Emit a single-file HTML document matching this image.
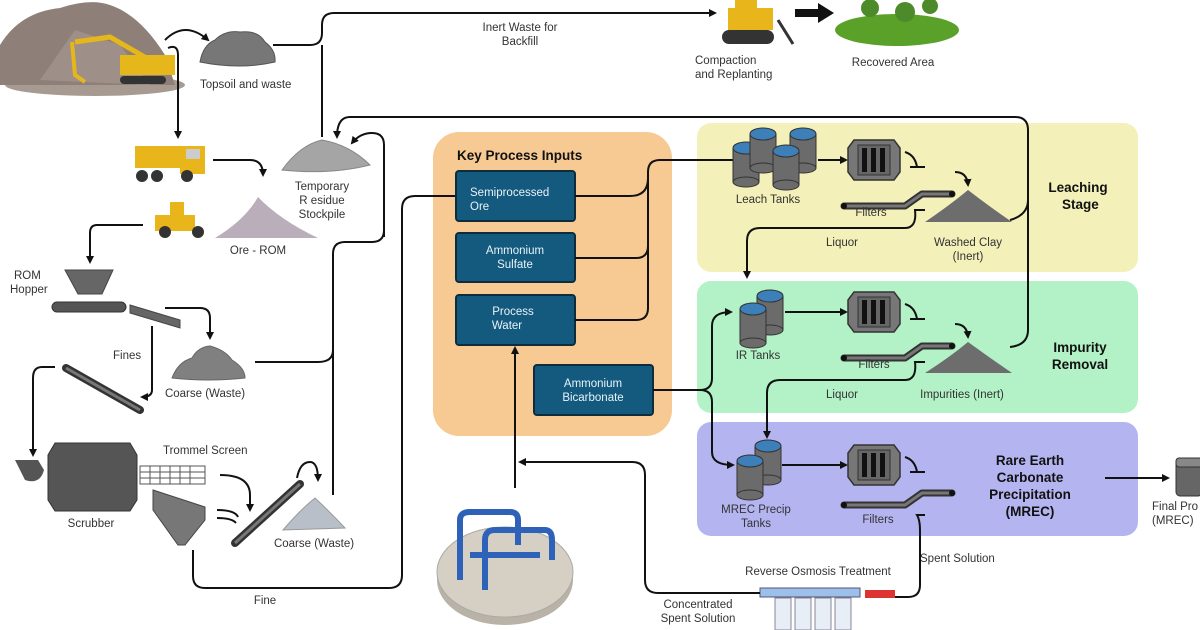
<!DOCTYPE html>
<html><head><meta charset="utf-8"><style>
html,body{margin:0;padding:0;background:#fff;}
svg{display:block;font-family:"Liberation Sans",Arial,sans-serif;}
.t{font-size:11.5px;fill:#333;}
.b{font-size:13.5px;font-weight:bold;fill:#111;}
.w{font-size:11.5px;fill:#e8f2f8;}
.ln{fill:none;stroke:#111;stroke-width:2;}
</style></head><body>
<svg width="1200" height="630" viewBox="0 0 1200 630">
<defs>
<marker id="a" markerWidth="8" markerHeight="8" refX="6" refY="4" orient="auto" markerUnits="userSpaceOnUse"><path d="M0,0 L8,4 L0,8 z" fill="#111"/></marker>
<g id="tank"><rect x="0" y="6" width="26" height="34" fill="#6b6b6b" stroke="#333"/><ellipse cx="13" cy="40" rx="13" ry="5" fill="#6b6b6b" stroke="#333"/><ellipse cx="13" cy="6" rx="13" ry="6" fill="#3d7fb8" stroke="#333"/></g>
<g id="filt"><path d="M6,0 H46 L52,8 V32 L46,40 H6 L0,32 V8 Z" fill="#777" stroke="#333" stroke-width="1.5"/><rect x="10" y="5" width="32" height="30" fill="#666" stroke="#333"/><rect x="14" y="8" width="5" height="24" fill="#111"/><rect x="23" y="8" width="5" height="24" fill="#111"/><rect x="32" y="8" width="5" height="24" fill="#111"/></g>
<g id="belt"><path d="M4,18 H65 L82,6 H112" fill="none" stroke="#333" stroke-width="7" stroke-linecap="round" stroke-linejoin="round"/><path d="M4,18 H65 L82,6 H112" fill="none" stroke="#777" stroke-width="3"/><circle cx="4" cy="18" r="3" fill="#111"/><circle cx="112" cy="6" r="3" fill="#111"/></g>
</defs>

<!-- panels -->
<rect x="433" y="132" width="239" height="304" rx="26" fill="#f7c993"/>
<rect x="697" y="123" width="441" height="149" rx="14" fill="#f3f0b9"/>
<rect x="697" y="281" width="441" height="132" rx="14" fill="#b3f1c6"/>
<rect x="697" y="422" width="441" height="114" rx="14" fill="#b4b4f1"/>

<!-- top landscape -->
<ellipse cx="95" cy="85" rx="90" ry="11" fill="#a79a90"/>
<path d="M0,45 Q20,12 60,8 Q90,-2 110,5 Q140,15 165,55 L175,85 L0,85 Z" fill="#8e8078"/>
<path d="M40,80 L75,30 L120,45 L150,85 Z" fill="#9e9088"/>
<path d="M75,42 L110,37 L150,60" fill="none" stroke="#e6b71b" stroke-width="5"/>
<rect x="120" y="55" width="55" height="20" fill="#e6b71b"/>
<rect x="120" y="76" width="46" height="8" rx="4" fill="#333"/>
<path d="M72,42 L75,75 L85,82" fill="none" stroke="#e6b71b" stroke-width="4"/>
<path d="M200,62 Q203,45 215,40 Q225,30 240,32 Q258,30 265,42 Q276,50 275,62 Q240,70 200,62 Z" fill="#777" stroke="#555"/>
<text class="t" x="200" y="88">Topsoil and waste</text>
<path class="ln" d="M165,40 Q185,20 208,40" marker-end="url(#a)"/>
<path class="ln" d="M168,48 Q178,44 178,55 V137" marker-end="url(#a)"/>
<!-- truck -->
<rect x="135" y="146" width="45" height="22" fill="#e8b61a"/><rect x="180" y="146" width="25" height="28" fill="#e8b61a"/><rect x="186" y="149" width="14" height="10" fill="#ccc"/>
<circle cx="142" cy="176" r="6" fill="#333"/><circle cx="157" cy="176" r="6" fill="#333"/><circle cx="187" cy="176" r="6" fill="#333"/>
<path class="ln" d="M213,160 H250 Q263,160 263,175" marker-end="url(#a)"/>
<!-- stockpile -->
<path d="M282,170 Q300,145 322,140 Q350,145 370,165 Q330,175 282,170 Z" fill="#a5a5a5" stroke="#888"/>
<text class="t" x="322" y="190" text-anchor="middle">Temporary</text>
<text class="t" x="322" y="204" text-anchor="middle">R esidue</text>
<text class="t" x="322" y="218" text-anchor="middle">Stockpile</text>
<!-- loader + ROM -->
<rect x="155" y="215" width="40" height="16" fill="#e8b61a"/><rect x="170" y="202" width="14" height="14" fill="#e8b61a"/>
<circle cx="165" cy="232" r="6" fill="#333"/><circle cx="198" cy="232" r="6" fill="#333"/>
<path d="M215,238 Q245,220 258,197 Q280,220 318,238 Z" fill="#b9aeb9"/>
<text class="t" x="258" y="254" text-anchor="middle">Ore - ROM</text>
<path class="ln" d="M143,225 H97 Q90,225 90,233 V262" marker-end="url(#a)"/>
<text class="t" x="14" y="279">ROM</text><text class="t" x="10" y="293">Hopper</text>
<path d="M65,270 H113 L102,294 H78 Z" fill="#666" stroke="#444"/>
<!-- conveyor 1 -->
<rect x="52" y="302" width="74" height="10" rx="5" fill="#555" stroke="#333"/>
<path d="M130,305 L180,320 L180,328 L130,313 Z" fill="#666" stroke="#444"/>
<path class="ln" d="M165,308 H200 Q210,308 210,318 V338" marker-end="url(#a)"/>
<path d="M172,378 Q178,362 192,358 Q198,347 210,346 Q225,350 232,360 Q245,368 245,378 Q208,382 172,378 Z" fill="#808080" stroke="#666"/>
<text class="t" x="205" y="397" text-anchor="middle">Coarse (Waste)</text>
<text class="t" x="113" y="359">Fines</text>
<path class="ln" d="M152,326 V390 Q152,397 142,397" marker-end="url(#a)"/>
<path d="M66,368 L140,410" stroke="#333" stroke-width="8" stroke-linecap="round"/>
<path d="M66,368 L140,410" stroke="#777" stroke-width="3"/>
<path class="ln" d="M55,367 H42 Q33,367 33,378 V455" marker-end="url(#a)"/>
<!-- scrubber -->
<path d="M15,460 H38 L44,470 Q40,485 25,480 Z" fill="#555"/>
<path d="M55,443 H130 L137,455 V500 L130,511 H55 L48,500 V455 Z" fill="#555" stroke="#333"/>
<rect x="140" y="466" width="65" height="18" fill="#fff" stroke="#555"/>
<path d="M140,472H205M140,478H205M150,466V484M160,466V484M170,466V484M180,466V484M190,466V484" stroke="#555" stroke-width="1"/>
<text class="t" x="91" y="527" text-anchor="middle">Scrubber</text>
<text class="t" x="163" y="454">Trommel Screen</text>
<path d="M153,490 L205,507 V520 L185,545 H178 L153,510 Z" fill="#777" stroke="#444"/>
<path class="ln" d="M220,475 Q250,475 250,495 V510" marker-end="url(#a)"/>
<path class="ln" d="M217,510 Q235,510 238,517"/><path class="ln" d="M217,518 Q232,518 236,523"/>
<path d="M235,543 L300,484" stroke="#333" stroke-width="8" stroke-linecap="round"/>
<path d="M235,543 L300,484" stroke="#777" stroke-width="3"/>
<path class="ln" d="M297,478 Q300,462 310,462 Q318,462 318,480" marker-end="url(#a)"/>
<path d="M283,530 Q300,510 315,498 Q330,512 345,528 Z" fill="#b8bfc8" stroke="#999"/>
<text class="t" x="314" y="547" text-anchor="middle">Coarse (Waste)</text>
<text class="t" x="265" y="604" text-anchor="middle">Fine</text>

<!-- connectors left -->
<path class="ln" d="M273,45 H310 Q322,45 322,33 V25 Q322,13 334,13 H715" marker-end="url(#a)"/>
<path class="ln" d="M322,45 V137"/>
<text class="t" x="520" y="31" text-anchor="middle">Inert Waste for</text>
<text class="t" x="520" y="45" text-anchor="middle">Backfill</text>
<path class="ln" d="M1010,220 Q1028,215 1028,200 V130 Q1028,117 1015,117 H350 Q337,117 337,137" marker-end="url(#a)"/>
<path class="ln" d="M1010,347 Q1028,345 1028,330 V200"/>
<path class="ln" d="M384,237 V145 Q384,133 372,133 Q360,133 352,143" marker-end="url(#a)"/>
<path class="ln" d="M384,230 Q384,242 372,242 H345 Q333,242 333,254 V495"/>
<path class="ln" d="M255,362 H318 Q333,362 333,350"/>
<path class="ln" d="M456,196 H415 Q402,196 402,209 V575 Q402,588 389,588 H205 Q193,588 193,576 V550"/>

<!-- top right -->
<rect x="728" y="8" width="45" height="22" fill="#e8b61a"/><rect x="735" y="0" width="22" height="10" fill="#e8b61a"/>
<rect x="722" y="30" width="52" height="14" rx="7" fill="#333"/>
<path d="M778,20 L793,44" stroke="#333" stroke-width="3"/>
<path d="M795,9 H818 V3 L834,13 L818,23 V17 H795 Z" fill="#111"/>
<ellipse cx="897" cy="30" rx="62" ry="16" fill="#5aa12a"/>
<circle cx="870" cy="8" r="9" fill="#4d8a2a"/><circle cx="905" cy="12" r="10" fill="#4d8a2a"/><circle cx="930" cy="6" r="8" fill="#4d8a2a"/>
<text class="t" x="695" y="64">Compaction</text><text class="t" x="695" y="78">and Replanting</text>
<text class="t" x="893" y="66" text-anchor="middle">Recovered Area</text>

<!-- key process inputs -->
<text class="b" x="457" y="160">Key Process Inputs</text>
<g fill="#135a7e" stroke="#0d2d3d" stroke-width="2">
<rect x="456" y="171" width="119" height="50" rx="3"/>
<rect x="456" y="233" width="119" height="49" rx="3"/>
<rect x="456" y="295" width="119" height="50" rx="3"/>
<rect x="534" y="365" width="119" height="50" rx="3"/>
</g>
<text class="w" x="470" y="196">Semiprocessed</text><text class="w" x="470" y="210">Ore</text>
<text class="w" x="515" y="254" text-anchor="middle">Ammonium</text><text class="w" x="515" y="268" text-anchor="middle">Sulfate</text>
<text class="w" x="513" y="315" text-anchor="middle">Process</text><text class="w" x="507" y="329" text-anchor="middle">Water</text>
<text class="w" x="593" y="387" text-anchor="middle">Ammonium</text><text class="w" x="593" y="401" text-anchor="middle">Bicarbonate</text>
<path class="ln" d="M575,196 H630 Q648,196 648,178 V172 Q648,160 660,160 H733"/>
<path class="ln" d="M575,258 H636 Q648,258 648,246 V178"/>
<path class="ln" d="M575,320 H636 Q648,320 648,308 V246"/>
<path class="ln" d="M515,488 V348" marker-end="url(#a)"/>

<!-- leaching -->
<use href="#tank" x="733" y="142"/><use href="#tank" x="750" y="128"/><use href="#tank" x="790" y="128"/><use href="#tank" x="773" y="145"/>
<text class="t" x="768" y="203" text-anchor="middle">Leach Tanks</text>
<path class="ln" d="M818,160 H846" marker-end="url(#a)"/>
<use href="#filt" x="848" y="140"/>
<path class="ln" d="M905,152 Q915,155 917,167 M910,167 H925"/>
<use href="#belt" x="840" y="188"/>
<text class="t" x="871" y="216" text-anchor="middle">Filters</text>
<path class="ln" d="M955,172 Q967,172 968,185" marker-end="url(#a)"/>
<path d="M925,222 Q950,205 968,190 Q990,207 1012,222 Z" fill="#6d6d6d"/>
<text class="t" x="968" y="246" text-anchor="middle">Washed Clay</text><text class="t" x="968" y="260" text-anchor="middle">(Inert)</text>
<path class="ln" d="M925,210 H915 Q917,228 905,228 H760 Q747,228 747,241 V277" marker-end="url(#a)"/>
<text class="t" x="842" y="246" text-anchor="middle">Liquor</text>
<text class="b" x="1078" y="192" text-anchor="middle">Leaching</text><text class="b" x="1062" y="209">Stage</text>

<!-- impurity removal -->
<use href="#tank" x="757" y="290"/><use href="#tank" x="740" y="303"/>
<text class="t" x="758" y="359" text-anchor="middle">IR Tanks</text>
<path class="ln" d="M785,312 H846" marker-end="url(#a)"/>
<use href="#filt" x="848" y="292"/>
<path class="ln" d="M905,304 Q915,307 917,319 M910,319 H925"/>
<use href="#belt" x="840" y="340"/>
<text class="t" x="874" y="368" text-anchor="middle">Filters</text>
<path class="ln" d="M955,324 Q967,324 968,337" marker-end="url(#a)"/>
<path d="M925,373 Q950,357 968,342 Q990,358 1012,373 Z" fill="#6d6d6d"/>
<text class="t" x="962" y="398" text-anchor="middle">Impurities (Inert)</text>
<path class="ln" d="M925,362 H915 Q917,380 905,380 H780 Q767,380 767,393 V437" marker-end="url(#a)"/>
<text class="t" x="842" y="398" text-anchor="middle">Liquor</text>
<text class="b" x="1080" y="352" text-anchor="middle">Impurity</text><text class="b" x="1080" y="369" text-anchor="middle">Removal</text>

<!-- bicarbonate split -->
<path class="ln" d="M653,390 H700 Q712,390 712,378 V326 Q712,312 731,312" marker-end="url(#a)"/>
<path class="ln" d="M700,390 Q712,390 712,402 V452 Q712,465 733,465" marker-end="url(#a)"/>

<!-- MREC -->
<use href="#tank" x="755" y="440"/><use href="#tank" x="737" y="455"/>
<text class="t" x="756" y="513" text-anchor="middle">MREC Precip</text><text class="t" x="756" y="527" text-anchor="middle">Tanks</text>
<path class="ln" d="M782,465 H846" marker-end="url(#a)"/>
<use href="#filt" x="848" y="445"/>
<path class="ln" d="M905,457 Q915,460 917,472 M910,472 H925"/>
<use href="#belt" x="840" y="487"/>
<text class="t" x="878" y="523" text-anchor="middle">Filters</text>
<text class="b" x="1030" y="465" text-anchor="middle">Rare Earth</text>
<text class="b" x="1030" y="482" text-anchor="middle">Carbonate</text>
<text class="b" x="1030" y="499" text-anchor="middle">Precipitation</text>
<text class="b" x="1030" y="516" text-anchor="middle">(MREC)</text>
<path class="ln" d="M1105,478 H1168" marker-end="url(#a)"/>
<rect x="1176" y="458" width="26" height="38" rx="4" fill="#666" stroke="#333"/>
<rect x="1176" y="458" width="26" height="9" rx="3" fill="#888" stroke="#333"/>
<text class="t" x="1152" y="510">Final Pro</text><text class="t" x="1152" y="524">(MREC)</text>

<!-- spent solution / RO -->
<path class="ln" d="M925,515 H917 Q920,520 920,530 V585 Q920,597 908,597 H895"/>
<text class="t" x="920" y="562">Spent Solution</text>
<text class="t" x="818" y="575" text-anchor="middle">Reverse Osmosis Treatment</text>
<rect x="760" y="588" width="100" height="9" fill="#9cc0ea" stroke="#557"/>
<rect x="865" y="590" width="30" height="8" fill="#d33"/>
<rect x="775" y="598" width="16" height="32" fill="#e8eef5" stroke="#889"/><rect x="795" y="598" width="16" height="32" fill="#e8eef5" stroke="#889"/><rect x="815" y="598" width="16" height="32" fill="#e8eef5" stroke="#889"/><rect x="835" y="598" width="16" height="32" fill="#e8eef5" stroke="#889"/>
<path class="ln" d="M760,593 H658 Q645,593 645,580 V475 Q645,462 632,462 H520" marker-end="url(#a)"/>
<text class="t" x="698" y="608" text-anchor="middle">Concentrated</text><text class="t" x="698" y="622" text-anchor="middle">Spent Solution</text>

<!-- raw water pond -->
<ellipse cx="505" cy="580" rx="68" ry="45" fill="#b9b2a6"/>
<ellipse cx="505" cy="572" rx="68" ry="45" fill="#d6d0c4" stroke="#aaa"/>
<path d="M460,580 V520 Q460,512 470,512 H510 Q518,512 518,520 V545 M485,590 V540 Q485,530 495,530 H545 Q552,530 552,540 V560 M470,555 H540" fill="none" stroke="#2d62b8" stroke-width="6"/>
<text class="t" x="510" y="640" text-anchor="middle">Raw Water</text>
</svg>
</body></html>
